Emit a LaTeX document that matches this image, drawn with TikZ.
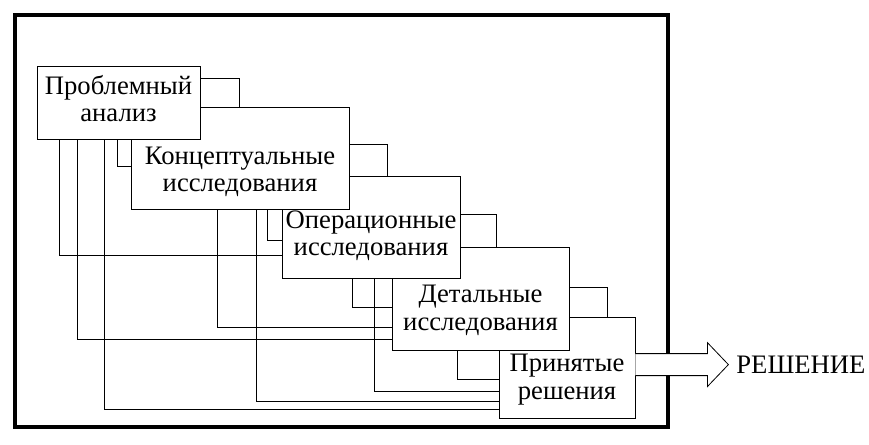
\documentclass[tikz,border=0pt]{standalone}
\usepackage{fontspec}
\setmainfont{Liberation Serif}
\usetikzlibrary{backgrounds}
\newcommand\px{0.75pt}
\newcommand\fb[5]{\draw ([xshift=#2*\px]#1.south west) |- ([yshift=-#4*\px]#3.north west);}
\newcommand\bk[4]{\draw ([yshift=-#2*\px]#1.north east) -| ([xshift=#4*\px]#3.north west);}

\begin{document}
\begin{tikzpicture}[x=0.75pt, y=-0.75pt, semithick]
\tikzstyle{block} = [rectangle, draw, fill=white, inner sep=0pt]
\tikzstyle{lbl} = [align=center, inner sep=0pt, font=\fontsize{20}{20.5}\selectfont]
\useasboundingbox (0,0) rectangle (869,444);
\draw[line width=3pt] (15,15) rectangle (668,427);
\node[block, minimum width=136*\px, minimum height=101*\px] at (567,367.5) (E){};
\node[lbl] at ([yshift=-12*\px]E.center) (Etext){Принятые\\ решения};
\node[block, minimum width=177*\px, minimum height=103*\px] at (480.5,298.5) (D){};
\node[lbl] at ([yshift=-12*\px]D.center) (Dtext){Детальные\\ исследования};
\node[block, minimum width=178*\px, minimum height=102*\px] at (371,227) (C){};
\node[lbl] at ([yshift=-9*\px]C.center) (Ctext){Операционные\\ исследования};
\node[block, minimum width=218*\px, minimum height=102*\px] at (240,158) (B){};
\node[lbl] at ([yshift=-14*\px]B.center) (Btext){Концептуальные\\ исследования};
\node[block, minimum width=163*\px, minimum height=73*\px] at (118.5,102.5) (A){};
\node[lbl] at ([yshift=4*\px]A.center) (Atext){Проблемный\\ анализ};
\node[lbl, anchor=west] at (736,365) (sol){РЕШЕНИЕ};
%% arrow to the decision
\draw[fill=white] ([yshift=-37*\px]E.north east) -- ++(72,0) -- ++(0,-11)
  -- ++(21,22) -- ++(-21,22) -- ++(0,-11) -- ++(-72,0);
%% links
\begin{scope}[on background layer]
\fb{A}{81}{B}{60}{}
\fb{A}{23}{C}{80}{}
\fb{A}{41}{D}{93}{}
\fb{A}{68}{E}{93}{}
\fb{B}{137}{C}{65}{}
\fb{B}{87}{D}{81}{}
\fb{B}{126}{E}{85}{}
\fb{C}{71}{D}{61}{}
\fb{C}{93}{E}{75}{}
\fb{D}{66}{E}{63}{}
\bk{A}{13}{B}{109}
\bk{B}{38}{C}{106}
\bk{C}{39}{D}{105}
\bk{D}{41}{E}{109}
\end{scope}
\end{tikzpicture}
\end{document}
